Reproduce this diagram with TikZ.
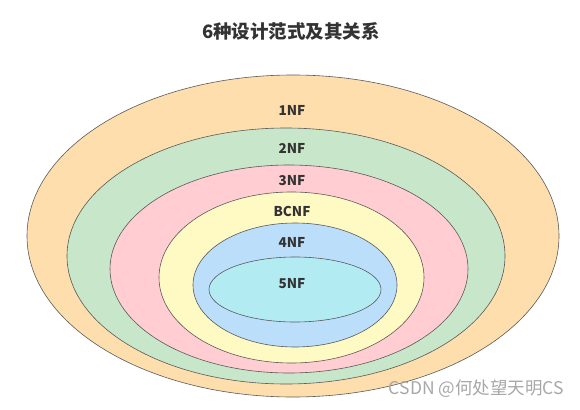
\documentclass[tikz,border=0pt]{standalone}
\usepackage{fontspec}
\setmainfont{Noto Sans CJK SC}
\newfontfamily\cjk{Noto Sans CJK SC}
\usetikzlibrary{shapes.geometric}
\definecolor{nfone}{HTML}{FFDEAD}
\definecolor{nftwo}{HTML}{C8E6C9}
\definecolor{nfthree}{HTML}{FFCDD2}
\definecolor{nfbc}{HTML}{FFF9C4}
\definecolor{nffour}{HTML}{BBDEFB}
\definecolor{nffive}{HTML}{B2EBF2}
\definecolor{edgegray}{HTML}{5A5A5A}
\definecolor{txt}{HTML}{333333}
\definecolor{wm}{HTML}{A8A8A8}
\tikzset{
  ring/.style={ellipse, draw=edgegray, line width=0.6pt, inner sep=0pt},
  nflabel/.style={font=\cjk\bfseries\fontsize{13.5}{13.5}\selectfont, text=txt, inner sep=0pt},
}
\begin{document}
\begin{tikzpicture}[x=1pt,y=-1pt]
\fill[white] (0,0) rectangle (580,409);
\useasboundingbox (0,0) rectangle (580,409);
\node[font=\cjk\bfseries\fontsize{18.5}{18.5}\selectfont, text=txt] (title) at (291,31) {6种设计范式及其关系};
\node[ring, fill=nfone, minimum width=532pt, minimum height=322pt] (e1) at (293,236) {};
\node[ring, fill=nftwo, minimum width=438pt, minimum height=256pt] (e2) at (286,256) {};
\node[ring, fill=nfthree, minimum width=358pt, minimum height=208pt] (e3) at (289,269) {};
\node[ring, fill=nfbc, minimum width=265pt, minimum height=171pt] (e4) at (291.5,277.5) {};
\node[ring, fill=nffour, minimum width=204pt, minimum height=124pt] (e5) at (295,285) {};
\node[ring, fill=nffive, minimum width=172pt, minimum height=65pt] (e6) at (295,289.5) {};
\node[nflabel] (l1) at (292,110) {1NF};
\node[nflabel] (l2) at (292,148) {2NF};
\node[nflabel] (l3) at (292,181) {3NF};
\node[nflabel] (l4) at (292,211) {BCNF};
\node[nflabel] (l5) at (292,242) {4NF};
\node[nflabel] (l6) at (292,284) {5NF};
\node[font=\cjk\fontsize{17.5}{17.5}\selectfont, text=wm, anchor=east, inner sep=0pt] (wmk) at (564,389) {CSDN @何处望天明CS};
\end{tikzpicture}
\end{document}
